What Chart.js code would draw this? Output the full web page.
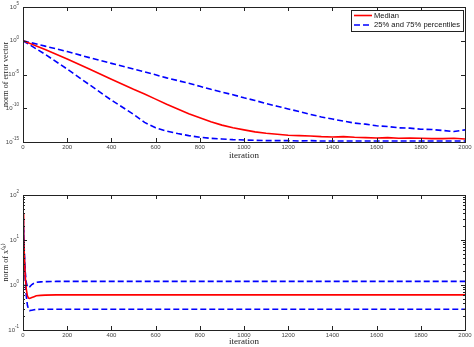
<!DOCTYPE html>
<html>
<head>
<meta charset="utf-8">
<script src="https://cdn.jsdelivr.net/npm/chart.js@4"></script>
<style>
  html, body { margin: 0; padding: 0; background: #fff; }
  #wrap { position: relative; width: 474px; height: 347px; }
  canvas { position: absolute; left: 0; }
  #c-erro { top: 0; }
  #c-norma { top: 175px; }
</style>
</head>
<body>
<div id="wrap">
  <canvas id="c-erro" width="474" height="175"></canvas>
  <canvas id="c-norma" width="474" height="172"></canvas>
</div>
<script>
// ── Dados (expoentes log10) ──
const iterErro = [0, 100, 200, 300, 400, 500, 550, 600, 650, 700, 750, 800, 850, 900, 950, 1000,
                  1050, 1100, 1150, 1200, 1250, 1300, 1350, 1400, 1450, 1500, 1550, 1600, 1650,
                  1700, 1750, 1800, 1850, 1900, 1950, 2000];
const erroMediana = [0, -1.3, -2.7, -4.2, -5.7, -7.2, -7.9, -8.65, -9.4, -10.1, -10.8, -11.4, -12.0, -12.5, -12.9, -13.2,
                     -13.5, -13.7, -13.85, -14.0, -14.05, -14.1, -14.2, -14.25, -14.2, -14.3, -14.35, -14.4, -14.35,
                     -14.45, -14.4, -14.45, -14.5, -14.5, -14.45, -14.55];
const erroP25 = [0, -2.0, -4.2, -6.5, -8.8, -10.9, -12.1, -12.9, -13.4, -13.75, -14.05, -14.3, -14.45, -14.55, -14.65, -14.7,
                 -14.75, -14.8, -14.8, -14.8, -14.85, -14.8, -14.85, -14.85, -14.85, -14.85, -14.85, -14.85, -14.85,
                 -14.85, -14.85, -14.85, -14.85, -14.85, -14.85, -14.85];
const erroP75 = [0, -0.8, -1.6, -2.5, -3.35, -4.2, -4.6, -5.05, -5.5, -5.9, -6.3, -6.75, -7.2, -7.6, -8.0, -8.45,
                 -8.85, -9.3, -9.7, -10.1, -10.5, -10.9, -11.3, -11.6, -11.9, -12.2, -12.35, -12.6, -12.7,
                 -12.9, -12.95, -13.1, -13.15, -13.3, -13.45, -13.2];

const iterNorma = [0, 3, 6, 10, 15, 20, 25, 30, 40, 50, 60, 80, 100, 150, 200, 500, 1000, 1500, 2000];
const normaMediana = [1.58, 1.1, 0.65, 0.2, -0.1, -0.24, -0.29, -0.3, -0.28, -0.26, -0.24, -0.23, -0.225, -0.22, -0.22, -0.22, -0.22, -0.22, -0.22];
const normaP25 = [1.62, 1.1, 0.6, 0.1, -0.25, -0.45, -0.54, -0.57, -0.56, -0.55, -0.545, -0.54, -0.54, -0.54, -0.54, -0.54, -0.54, -0.54, -0.54];
const normaP75 = [1.70, 1.2, 0.75, 0.3, 0.05, -0.04, -0.06, -0.04, 0.01, 0.04, 0.06, 0.07, 0.075, 0.08, 0.08, 0.08, 0.08, 0.08, 0.08];

const ticksX = [0, 200, 400, 600, 800, 1000, 1200, 1400, 1600, 1800, 2000];
const ticksErro = [-15, -10, -5, 0, 5];
const ticksNorma = [-1, 0, 1, 2];

const VERMELHO = "#ff0000";
const AZUL = "#0000ff";
const FONTE_SANS = "'Liberation Sans', Arial, sans-serif";
const FONTE_SERIF = "'Liberation Serif', 'Times New Roman', serif";

function pontos(xs, ys) {
    return xs.map((x, i) => ({ x, y: Math.pow(10, ys[i]) }));
}

// ── Moldura estilo MATLAB com ticks para dentro + rótulos 10^n ──
const moldura = {
    id: "moldura",
    afterDatasetsDraw(chart, args, opts) {
        const { ctx, chartArea: a, scales } = chart;
        ctx.save();
        ctx.strokeStyle = "#222";
        ctx.lineWidth = 1;
        ctx.strokeRect(Math.round(a.left) + 0.5, Math.round(a.top) + 0.5,
                       Math.round(a.right - a.left), Math.round(a.bottom - a.top));
        ctx.beginPath();
        ticksX.forEach(v => {
            const px = Math.round(scales.x.getPixelForValue(v)) + 0.5;
            ctx.moveTo(px, a.bottom); ctx.lineTo(px, a.bottom - 4);
            ctx.moveTo(px, a.top); ctx.lineTo(px, a.top + 4);
        });
        opts.maiores.forEach(e => {
            const py = Math.round(scales.y.getPixelForValue(Math.pow(10, e))) + 0.5;
            ctx.moveTo(a.left, py); ctx.lineTo(a.left + 4, py);
            ctx.moveTo(a.right, py); ctx.lineTo(a.right - 4, py);
        });
        if (opts.menores) {
            for (let e = opts.maiores[0]; e < opts.maiores[opts.maiores.length - 1]; e++) {
                for (let m = 2; m <= 9; m++) {
                    const py = Math.round(scales.y.getPixelForValue(m * Math.pow(10, e))) + 0.5;
                    ctx.moveTo(a.left, py); ctx.lineTo(a.left + 2, py);
                    ctx.moveTo(a.right, py); ctx.lineTo(a.right - 2, py);
                }
            }
        }
        ctx.stroke();

        // rótulos do eixo y: "10" com expoente pequeno
        ctx.fillStyle = "#444";
        ctx.textAlign = "right";
        ctx.textBaseline = "middle";
        opts.maiores.forEach(e => {
            const py = scales.y.getPixelForValue(Math.pow(10, e));
            const xd = a.left - 4;
            ctx.font = "4.5px " + FONTE_SANS;
            const exp = String(e);
            const w = ctx.measureText(exp).width;
            ctx.fillText(exp, xd, py - 3);
            ctx.font = "6px " + FONTE_SANS;
            ctx.fillText("10", xd - w, py);
        });
        ctx.restore();
    }
};

// ── Legenda dentro do gráfico ──
const legenda = {
    id: "legenda",
    afterDraw(chart, args, opts) {
        if (!opts.mostrar) return;
        const ctx = chart.ctx;
        ctx.save();
        ctx.fillStyle = "#fff";
        ctx.fillRect(351, 10, 112, 21);
        ctx.strokeStyle = "#222";
        ctx.lineWidth = 1;
        ctx.strokeRect(351.5, 10.5, 112, 21);
        ctx.lineWidth = 1.6;
        ctx.strokeStyle = VERMELHO;
        ctx.beginPath(); ctx.moveTo(354, 15.5); ctx.lineTo(372, 15.5); ctx.stroke();
        ctx.strokeStyle = AZUL;
        ctx.setLineDash([6, 3]);
        ctx.beginPath(); ctx.moveTo(354, 25); ctx.lineTo(372, 25); ctx.stroke();
        ctx.setLineDash([]);
        ctx.fillStyle = "#111";
        ctx.font = "7.6px " + FONTE_SANS;
        ctx.textBaseline = "middle";
        ctx.fillText("Median", 374, 15.5);
        ctx.fillText("25% and 75% percentiles", 374, 25);
        ctx.restore();
    }
};

function criarGrafico(canvas, cfg) {
    const serie = (label, dados, cor, tracejado) => ({
        label, data: dados,
        borderColor: cor, borderWidth: 1.6,
        borderDash: tracejado ? [6, 3] : [],
        pointRadius: 0, tension: 0, fill: false,
    });
    return new Chart(canvas, {
        type: "line",
        data: {
            datasets: [
                serie("Median", pontos(cfg.iter, cfg.mediana), VERMELHO, false),
                serie("25% percentile", pontos(cfg.iter, cfg.p25), AZUL, true),
                serie("75% percentile", pontos(cfg.iter, cfg.p75), AZUL, true),
            ]
        },
        options: {
            responsive: false,
            animation: false,
            layout: { padding: { top: cfg.topo, right: 9, left: 0, bottom: cfg.fundo } },
            plugins: {
                legend: { display: false },
                tooltip: { enabled: false },
                moldura: { maiores: cfg.ticksY, menores: cfg.menores },
                legenda: { mostrar: cfg.legenda },
            },
            scales: {
                x: {
                    type: "linear", min: 0, max: 2000,
                    afterBuildTicks: s => { s.ticks = ticksX.map(v => ({ value: v })); },
                    afterFit: s => { s.height = cfg.alturaX; },
                    grid: { display: false, drawTicks: false },
                    border: { display: false },
                    ticks: { font: { size: 6, family: FONTE_SANS }, color: "#444",
                             maxRotation: 0, autoSkip: false, padding: 2, callback: v => String(v) },
                    title: { display: true, text: "iteration", color: "#222",
                             font: { size: 9, family: FONTE_SERIF },
                             padding: { top: 0, bottom: 0 } },
                },
                y: {
                    type: "logarithmic",
                    min: Math.pow(10, cfg.ticksY[0]), max: Math.pow(10, cfg.ticksY[cfg.ticksY.length - 1]),
                    afterBuildTicks: s => { s.ticks = cfg.ticksY.map(e => ({ value: Math.pow(10, e) })); },
                    afterFit: s => { s.width = 23; },
                    grid: { display: false, drawTicks: false },
                    border: { display: false },
                    ticks: { display: false },
                    title: { display: true, text: cfg.tituloY, color: "#222",
                             font: { size: 8, family: FONTE_SERIF },
                             padding: { top: 1, bottom: 0 } },
                }
            }
        },
        plugins: [moldura, legenda]
    });
}

criarGrafico(document.getElementById("c-erro"), {
    iter: iterErro, mediana: erroMediana, p25: erroP25, p75: erroP75,
    ticksY: ticksErro, menores: false, legenda: true,
    tituloY: "norm of error vector", topo: 7, fundo: 14, alturaX: 19,
});

criarGrafico(document.getElementById("c-norma"), {
    iter: iterNorma, mediana: normaMediana, p25: normaP25, p75: normaP75,
    ticksY: ticksNorma, menores: true, legenda: false,
    tituloY: "norm of x⁽ᵏ⁾", topo: 20, fundo: 0, alturaX: 17,
});
</script>
</body>
</html>
